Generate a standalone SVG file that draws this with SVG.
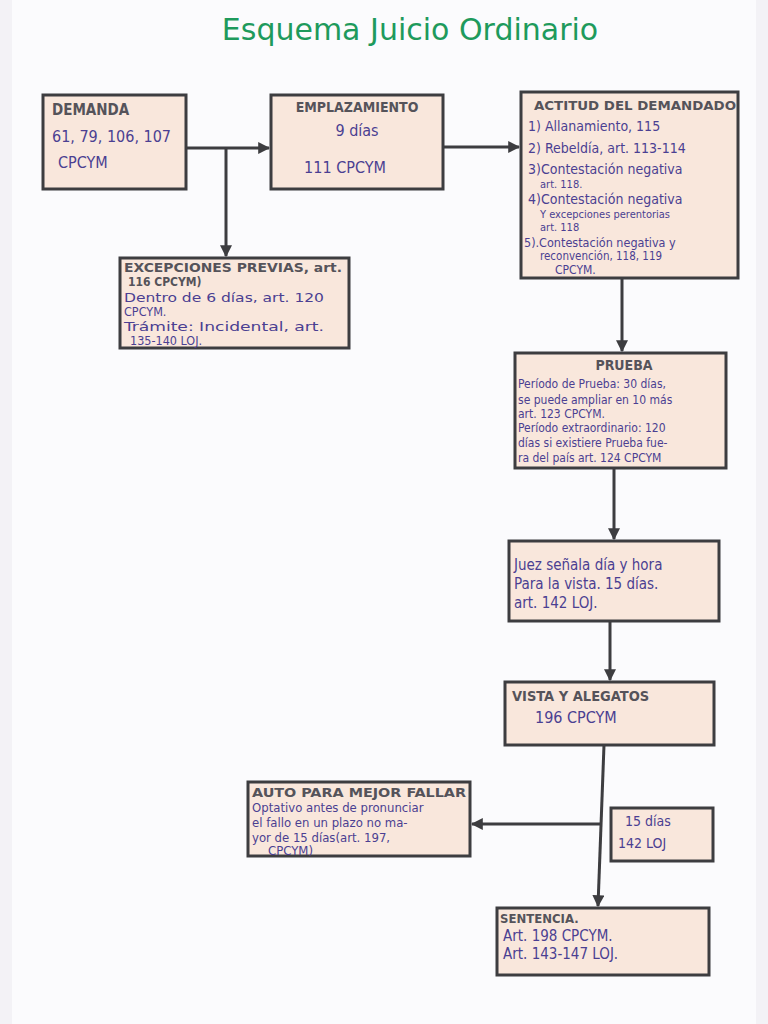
<svg xmlns="http://www.w3.org/2000/svg" width="768" height="1024" viewBox="0 0 768 1024">
<style>
.bg{fill:#f3f2f6}
.box{fill:#f9e7dc;stroke:#3d3d40;stroke-width:3}
.h{font-family:"DejaVu Sans Condensed","DejaVu Sans",sans-serif;font-weight:bold;fill:#55535a}
.t{font-family:"DejaVu Sans Condensed","DejaVu Sans",sans-serif;fill:#4b3f92}
.c{stroke:#3d3d40;stroke-width:3;fill:none}
</style>
<defs><marker id="a" viewBox="0 0 10 10" refX="9" refY="5" markerWidth="4" markerHeight="4" orient="auto"><path d="M0,0L10,5L0,10z" fill="#3d3d40"/></marker></defs>
<rect class="bg" width="768" height="1024"/>
<rect x="12" y="0" width="744" height="1024" fill="#fbfbfd"/>
<text x="410" y="40" text-anchor="middle" font-family="DejaVu Sans,sans-serif" font-size="30" fill="#1e9a5c">Esquema Juicio Ordinario</text>
<g id="connectors">
<path class="c" d="M186,148H269" marker-end="url(#a)"/>
<path class="c" d="M226,148V256" marker-end="url(#a)"/>
<path class="c" d="M443,147H519" marker-end="url(#a)"/>
<path class="c" d="M622,278V351" marker-end="url(#a)"/>
<path class="c" d="M614,468V539" marker-end="url(#a)"/>
<path class="c" d="M610,621V680" marker-end="url(#a)"/>
<path class="c" d="M604,745L598,906" marker-end="url(#a)"/>
<path class="c" d="M601,824H472" marker-end="url(#a)"/>
</g>
<g id="demanda"><rect class="box" x="43" y="95" width="143" height="94"/>
<text class="h" x="52" y="115" font-size="15">DEMANDA</text>
<text class="t" x="52" y="142" font-size="16">61, 79, 106, 107</text>
<text class="t" x="58" y="168" font-size="16">CPCYM</text></g>
<g id="emplazamiento"><rect class="box" x="271" y="95" width="172" height="94"/>
<text class="h" x="357" y="112" font-size="14" text-anchor="middle">EMPLAZAMIENTO</text>
<text class="t" x="357" y="136" font-size="16" text-anchor="middle">9 días</text>
<text class="t" x="345" y="173" font-size="16" text-anchor="middle">111 CPCYM</text></g>
<g id="actitud"><rect class="box" x="521" y="92" width="217" height="186"/>
<text class="h" x="534" y="110" font-size="12" textLength="202" lengthAdjust="spacingAndGlyphs">ACTITUD DEL DEMANDADO</text>
<g class="t" font-size="14">
<text x="528" y="131">1) Allanamiento, 115</text>
<text x="528" y="153">2) Rebeldía, art. 113-114</text>
<text x="528" y="174">3)Contestación negativa</text>
<text x="540" y="188" font-size="11">art. 118.</text>
<text x="528" y="204">4)Contestación negativa</text>
<text x="540" y="218" font-size="11">Y excepciones perentorias</text>
<text x="540" y="231" font-size="11">art. 118</text>
<text x="524" y="247" font-size="12.5">5).Contestación negativa y</text>
<text x="540" y="260" font-size="11.5">reconvención, 118, 119</text>
<text x="555" y="274" font-size="12">CPCYM.</text></g></g>
<g id="excepciones"><rect class="box" x="120" y="258" width="229" height="90"/>
<text class="h" x="124" y="272" font-size="11.5" textLength="218" lengthAdjust="spacingAndGlyphs">EXCEPCIONES PREVIAS, art.</text>
<text class="h" x="128" y="286" font-size="12">116 CPCYM)</text>
<g class="t" font-size="12.5"><text x="124" y="302" textLength="200" lengthAdjust="spacingAndGlyphs">Dentro de 6 días, art. 120</text>
<text x="124" y="316">CPCYM.</text>
<text x="124" y="331" textLength="200" lengthAdjust="spacingAndGlyphs">Trámite: Incidental, art.</text>
<text x="130" y="345">135-140 LOJ.</text></g></g>
<g id="prueba"><rect class="box" x="515" y="353" width="211" height="115"/>
<text class="h" x="624" y="370" font-size="14" text-anchor="middle">PRUEBA</text>
<g class="t" font-size="12"><text x="518" y="388">Período de Prueba: 30 días,</text>
<text x="518" y="404">se puede ampliar en 10 más</text>
<text x="518" y="418">art. 123 CPCYM.</text>
<text x="518" y="432">Período extraordinario: 120</text>
<text x="518" y="447">días si existiere Prueba fue-</text>
<text x="518" y="462">ra del país art. 124 CPCYM</text></g></g>
<g id="juez"><rect class="box" x="509" y="541" width="210" height="80"/>
<g class="t" font-size="15"><text x="514" y="570">Juez señala día y hora</text>
<text x="514" y="589">Para la vista. 15 días.</text>
<text x="514" y="608">art. 142 LOJ.</text></g></g>
<g id="vista"><rect class="box" x="505" y="682" width="209" height="63"/>
<text class="h" x="512" y="701" font-size="14.5">VISTA Y ALEGATOS</text>
<text class="t" x="535" y="723" font-size="16">196 CPCYM</text></g>
<g id="auto"><rect class="box" x="248" y="782" width="222" height="74"/>
<text class="h" x="252" y="797" font-size="12.5" textLength="214" lengthAdjust="spacingAndGlyphs">AUTO PARA MEJOR FALLAR</text>
<g class="t" font-size="13"><text x="252" y="812">Optativo antes de pronunciar</text>
<text x="252" y="827">el fallo en un plazo no ma-</text>
<text x="252" y="842">yor de 15 días(art. 197,</text>
<text x="268" y="855">CPCYM)</text></g></g>
<g id="quince"><rect class="box" x="611" y="808" width="102" height="53"/>
<g class="t" font-size="14"><text x="625" y="826">15 días</text>
<text x="618" y="848">142 LOJ</text></g></g>
<g id="sentencia"><rect class="box" x="497" y="908" width="212" height="67"/>
<text class="h" x="500" y="923" font-size="13">SENTENCIA.</text>
<g class="t" font-size="15"><text x="503" y="941">Art. 198 CPCYM.</text>
<text x="503" y="959">Art. 143-147 LOJ.</text></g></g>
</svg>
